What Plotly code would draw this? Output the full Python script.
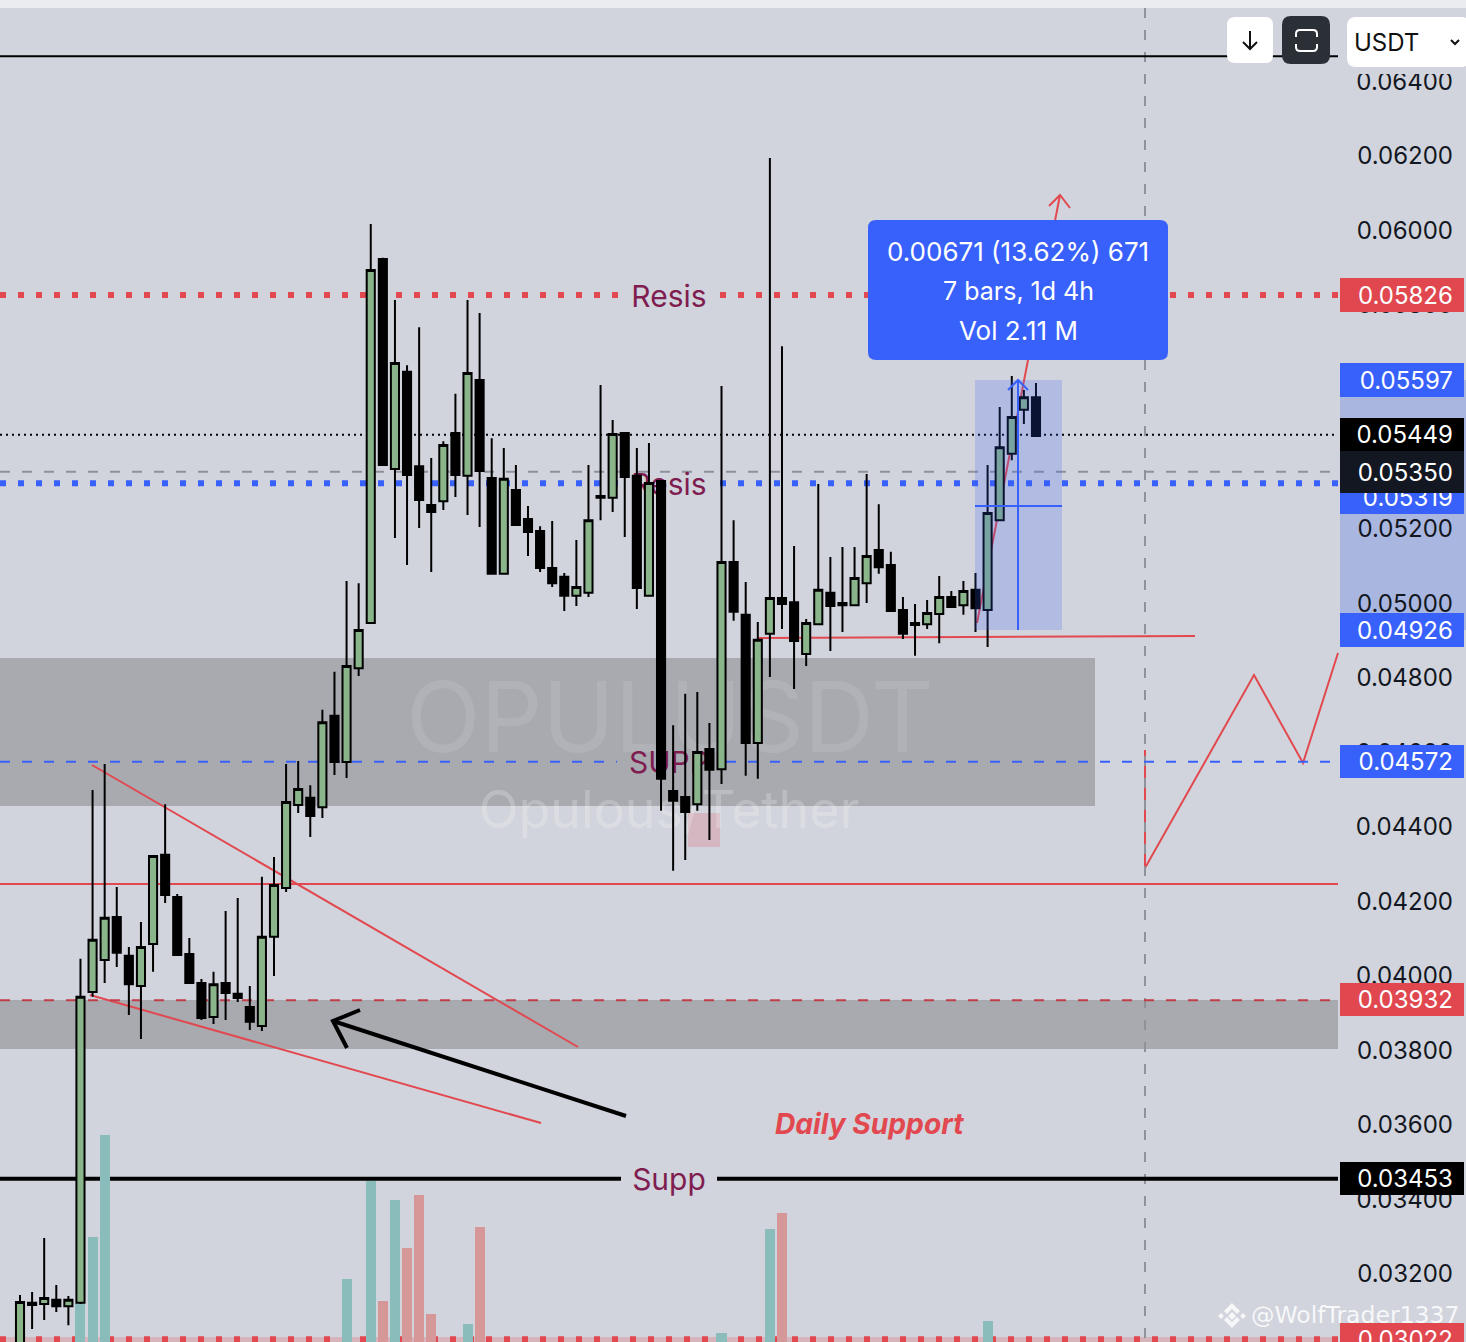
import plotly.graph_objects as go

W, H = 1466, 1342
# price scale: px 0 and px 1342 in 1e-5 USDT
P_TOP, P_BOT = 6615.8, 3014.8
SLOT, X0 = 12.095, 20.0
TICK_SHIFT = 2.68  # the price labels sit one pixel under their gridline value

# OHLC of the candles, in 1e-5 USDT
opens = [2967,3120,3117,3128,3111,3120,3954,4040,4155,4051,3970,4083,4322,4209,4056,3978,3887,3978,3949,3914,
         3863,4102,4233,4456,4475,4450,4695,4571,4823,4944,5921,5357,5618,5365,5261,5271,5454,5339,5596,5333,
         5076,5301,5223,5191,5092,5068,5017,5025,5285,5280,5454,5339,5017,5325,4493,4477,4458,4606,4552,5108,
         4966,4622,4915,5011,5000,4861,4941,5025,4998,4992,5051,5140,5100,4979,4944,4941,4968,5014,4992,5033,
         4979,5220,5398,5516,5550]
highs = [3141,3149,3294,3168,3138,4043,4496,4566,4236,4075,4142,4319,4458,4217,4099,3989,4008,4171,4206,3970,
         4263,4316,4566,4574,4509,4711,4813,5057,5051,6015,5924,5811,5636,5738,5387,5432,5559,5811,5776,5440,
         5414,5368,5258,5204,5218,5078,5167,5368,5583,5489,5454,5414,5427,5325,4670,4754,4759,4676,5580,5220,
         5054,4947,6192,5687,5151,4955,5317,5121,5148,5148,5344,5263,5135,5014,4995,5006,5070,5030,5057,5078,
         5368,5524,5607,5569,5588]
lows = [2953,3050,3074,3095,3060,3117,3941,3978,4021,3892,3828,4008,4193,4053,3978,3879,3868,3879,3927,3852,
        3849,3997,4222,4434,4370,4421,4536,4528,4802,4944,5368,5172,5100,5199,5081,5247,5282,5234,5202,5076,
        5076,5207,5124,5081,5041,4976,4990,5014,5220,5242,5175,4982,5017,4440,4279,4308,4440,4362,4512,4950,
        4534,4526,4799,4928,4767,4829,4941,4869,4920,4992,4998,5076,4976,4901,4856,4928,4890,4987,4966,4920,
        4880,5220,5381,5478,5446]
closes = [3122,3114,3133,3111,3128,3941,4094,4153,4059,3975,4075,4319,4214,4053,3978,3884,3975,3951,3938,3874,
          4102,4241,4464,4499,4426,4678,4571,4829,4925,5891,5368,5642,5341,5274,5242,5422,5341,5615,5352,5076,
          5331,5207,5188,5092,5051,5017,5041,5220,5280,5451,5336,5038,5320,4526,4467,4437,4598,4550,5108,4974,
          4622,4899,5011,4995,4896,4944,5033,4990,4992,5065,5124,5094,4976,4915,4939,4971,5014,4987,5030,4984,
          5239,5416,5497,5550,5446]

# visible volume bars (candle index, volume in arbitrary units)
vol_index = [5,6,7,27,29,30,31,32,33,34,37,38,58,62,63,80]
vol_values = [0.39,1.05,2.07,0.63,1.61,0.41,1.42,0.94,1.47,0.28,0.18,1.15,0.09,1.13,1.29,0.21]

tick_values = [3200,3400,3600,3800,4000,4200,4400,4600,4800,5000,5200,5400,5600,5800,6000,6200,6400]

# level lines, in 1e-5 USDT
LV_TOP = 6465; LV_RES1 = 5824; LV_LAST = 5449; LV_GRAY = 5350; LV_RES2 = 5319
LV_SUP = 4572; LV_RED = 4244; LV_DAILY = 3932; LV_SUPP = 3453; LV_LOW = 3022

# axis tags: label, colour, top px, bottom px
tag_labels = ["0.05826","0.05597","0.05449","0.05319","0.05350","0.04926","0.04572","0.03932","0.03453","0.03022"]
tag_colors = ["#e0474f","#3861fb","#000000","#3861fb","#131722","#3861fb","#3861fb","#e0474f","#000000","#e0474f"]
tag_tops = [278,363,418,480,451,613,745,983,1162,1323]
tag_bottoms = [312,397,451,514,493,647,778,1016,1195,1356]

RED, BLUE = "#e2484f", "#3861fb"
TEXT = "#7f1d50"
FONT = "Inter"
BG = "#d1d4dc"


def px(x):
    return x / W


def py(y):
    return 1 - y / H


def slot(x):
    return (x - X0) / SLOT


def price(y):
    return (P_TOP + (P_BOT - P_TOP) * y / H + TICK_SHIFT) / 1e5


def lv(value):
    return (value + TICK_SHIFT) / 1e5


shapes = []


def rect(x0, y0, x1, y1, fill, layer="below"):
    shapes.append(dict(type="rect", xref="paper", yref="paper", x0=px(x0), x1=px(x1), y0=py(y0), y1=py(y1),
                       fillcolor=fill, line_width=0, layer=layer))


def poly(points, color, width, layer="below", dash=None):
    d = "M" + " L".join(f"{px(a):.5f},{py(b):.5f}" for a, b in points)
    shapes.append(dict(type="path", xref="paper", yref="paper", path=d, layer=layer,
                       line=dict(color=color, width=width, dash=dash)))


def curve(cmds, color, width=0, fill=None, layer="above"):
    parts = []
    for c in cmds:
        parts.append(c[0] + " ".join(f"{px(c[i]):.5f},{py(c[i + 1]):.5f}" for i in range(1, len(c), 2)))
    d = "".join(parts)
    shapes.append(dict(type="path", xref="paper", yref="paper", path=d, layer=layer, fillcolor=fill,
                       line=dict(color=color, width=width)))


def rrect(x0, y0, x1, y1, r, fill):
    curve([("M", x0 + r, y0), ("L", x1 - r, y0), ("Q", x1, y0, x1, y0 + r), ("L", x1, y1 - r),
           ("Q", x1, y1, x1 - r, y1), ("L", x0 + r, y1), ("Q", x0, y1, x0, y1 - r), ("L", x0, y0 + r),
           ("Q", x0, y0, x0 + r, y0), ("Z",)], fill, 0, fill)


def level(value, x0, x1, color, width, dash):
    shapes.append(dict(type="line", xref="paper", yref="y", x0=px(x0), x1=px(x1), y0=lv(value), y1=lv(value),
                       layer="below", line=dict(color=color, width=width, dash=dash)))


# zones (below everything)
rect(0, 658, 1095, 806, "#a8aab0")
rect(0, 1000, 1338, 1049, "#a8aab0")
rect(688, 813, 720, 847, "rgba(226,72,82,0.2)")
rect(0, 1337, 1338, 1342, "#d7b4bc")
rect(1340, 380, 1466, 630, "#a9b7e0")

# hand-drawn lines
poly([(92, 765), (578, 1047)], RED, 2)
poly([(90, 995), (541, 1123)], RED, 2)
poly([(758, 638), (1195, 636)], RED, 2)
poly([(977, 623), (1060, 195)], RED, 2)
poly([(1049, 206), (1060, 195), (1070, 208)], RED, 2)
poly([(1145, 750), (1145, 868), (1254, 675), (1303, 763), (1338, 653)], RED, 2)
poly([(626, 1116), (333, 1021)], "#000000", 4)
poly([(360, 1010), (333, 1021), (347, 1048)], "#000000", 4)

# dashed cursor
poly([(1145, 8), (1145, 1342)], "#8f9299", 2, dash="10px,12px")

# levels
level(LV_TOP, 0, 1338, "#000000", 2, "solid")
level(LV_LAST, 0, 1338, "#000000", 2, "2px,4px")
level(LV_GRAY, 0, 1338, "#8e9199", 2, "10px,12px")
for a, b in [(0, 618), (720, 1338)]:
    level(LV_RES1, a, b, RED, 6, "6px,12px")
for a, b in [(0, 618), (720, 1338)]:
    level(LV_RES2, a, b, BLUE, 6, "6px,12px")
for a, b in [(0, 617), (726, 1338)]:
    level(LV_SUP, a, b, BLUE, 2, "10px,12px")
level(LV_RED, 0, 1338, RED, 2, "solid")
level(LV_DAILY, 0, 1338, "#c23d4a", 2, "10px,12px")
for a, b in [(0, 621), (717, 1338)]:
    level(LV_SUPP, a, b, "#000000", 4, "solid")
level(LV_LOW, 0, 1338, RED, 6, "6px,12px")

# measure box (above the candles)
rect(975, 380, 1062, 630, "rgba(56,97,251,0.2)", "above")
poly([(1018, 380), (1018, 630)], BLUE, 2, "above")
poly([(975, 506), (1062, 506)], BLUE, 2, "above")
poly([(1008, 390), (1018, 380), (1028, 390)], BLUE, 2, "above")
rrect(868, 220, 1168, 360, 8, BLUE)

# top strip and buttons
rect(0, 0, 1466, 8, "#eaecef", "above")
rect(1347, 60, 1466, 74, BG, "above")
rrect(1227, 17, 1273, 63, 8, "#ffffff")
rrect(1282, 16, 1330, 64, 9, "#2b2f36")
rrect(1347, 17, 1470, 67, 9, "#ffffff")
poly([(1250, 31), (1250, 49)], "#111111", 2, "above")
poly([(1243, 42), (1250, 49), (1257, 42)], "#111111", 2, "above")
curve([("M", 1296, 37), ("L", 1296, 34), ("Q", 1296, 30, 1300, 30), ("L", 1313, 30), ("Q", 1317, 30, 1317, 34),
       ("L", 1317, 37)], "#ffffff", 2)
curve([("M", 1296, 44), ("L", 1296, 47), ("Q", 1296, 51, 1300, 51), ("L", 1313, 51), ("Q", 1317, 51, 1317, 47),
       ("L", 1317, 44)], "#ffffff", 2)
poly([(1451, 40), (1455, 44), (1459, 40)], "#111111", 2, "above")

# watermark logo
LOGO = "rgba(255,255,255,0.8)"
curve([("M", 1232, 1303), ("L", 1240, 1311), ("L", 1237, 1314), ("L", 1232, 1309), ("L", 1227, 1314),
       ("L", 1224, 1311), ("Z",)], LOGO, 0, LOGO)
curve([("M", 1232, 1328), ("L", 1240, 1320), ("L", 1237, 1317), ("L", 1232, 1322), ("L", 1227, 1317),
       ("L", 1224, 1320), ("Z",)], LOGO, 0, LOGO)
curve([("M", 1232, 1312), ("L", 1236, 1316), ("L", 1232, 1320), ("L", 1228, 1316), ("Z",)], LOGO, 0, LOGO)
curve([("M", 1221, 1313), ("L", 1224, 1316), ("L", 1221, 1319), ("L", 1218, 1316), ("Z",)], LOGO, 0, LOGO)
curve([("M", 1243, 1313), ("L", 1246, 1316), ("L", 1243, 1319), ("L", 1240, 1316), ("Z",)], LOGO, 0, LOGO)

fig = go.Figure()

# text below the candles
fig.add_trace(go.Scatter(x=[slot(670)], y=[price(728)], mode="text", text=["OPULUSDT"], hoverinfo="skip",
                         textfont=dict(family=FONT, size=97, color="rgba(255,255,255,0.1)"), showlegend=False))
fig.add_trace(go.Scatter(x=[slot(669)], y=[price(815)], mode="text", text=["Opulous/Tether"], hoverinfo="skip",
                         textfont=dict(family=FONT, size=52, color="rgba(255,255,255,0.22)"), showlegend=False))
label_lift = 4 * (P_TOP - P_BOT) / H
fig.add_trace(go.Scatter(x=[slot(669), slot(669), slot(669), slot(669)],
                         y=[lv(v - label_lift) for v in (LV_RES1, LV_RES2, LV_SUP, LV_SUPP)],
                         mode="text", text=["Resis", "Resis", "SUPP", "Supp"], hoverinfo="skip",
                         textfont=dict(family=FONT, size=30, color=TEXT), showlegend=False))

# volume
fig.add_trace(go.Bar(x=vol_index, y=vol_values, yaxis="y2", width=0.83, hoverinfo="skip", showlegend=False,
                     marker=dict(line_width=0,
                                 color=["#8bbcbc" if closes[i] >= opens[i] else "#d69799" for i in vol_index])))

# candles
fig.add_trace(go.Candlestick(x=list(range(len(opens))),
                             open=[v / 1e5 for v in opens], high=[v / 1e5 for v in highs],
                             low=[v / 1e5 for v in lows], close=[v / 1e5 for v in closes],
                             yaxis="y3", hoverinfo="skip", showlegend=False, whiskerwidth=0,
                             increasing=dict(fillcolor="#8ab58a", line=dict(color="#000000", width=2)),
                             decreasing=dict(fillcolor="#000000", line=dict(color="#000000", width=2))))

ann = []
for lab, col, t, b in zip(tag_labels, tag_colors, tag_tops, tag_bottoms):
    ann.append(dict(xref="paper", yref="paper", x=px(1340), y=py((t + b) / 2), xanchor="left", yanchor="middle",
                    width=124, height=b - t, bgcolor=col, borderpad=0, borderwidth=0, align="right", valign="middle",
                    text=lab + "\u2009\u00a0", showarrow=False, font=dict(family=FONT, size=24, color="#ffffff")))
for txt, yy, sz in [("0.00671 (13.62%) 671", 251, 26), ("7 bars, 1d 4h", 291, 25), ("Vol 2.11 M", 330, 26)]:
    ann.append(dict(xref="paper", yref="paper", x=px(1018), y=py(yy), xanchor="center", yanchor="middle", text=txt,
                    showarrow=False, font=dict(family=FONT, size=sz, color="#ffffff")))
ann.append(dict(xref="paper", yref="paper", x=px(870), y=py(1124), xanchor="center", yanchor="middle",
                text="<b><i>Daily Support</i></b>", showarrow=False, font=dict(family=FONT, size=28.2, color=RED)))
ann.append(dict(xref="paper", yref="paper", x=px(1352), y=py(43), xanchor="left", yanchor="middle", text="USDT",
                showarrow=False, font=dict(family=FONT, size=24, color="#111111")))
ann.append(dict(xref="paper", yref="paper", x=px(1249), y=py(1315), xanchor="left", yanchor="middle",
                text="@WolfTrader1337", showarrow=False,
                font=dict(family="DejaVu Sans", size=23.5, color="rgba(255,255,255,0.85)")))

y_range = [P_BOT / 1e5, P_TOP / 1e5]
fig.update_layout(
    width=W, height=H, margin=dict(l=0, r=0, t=0, b=0), paper_bgcolor=BG, plot_bgcolor=BG,
    boxgap=0.33, boxgroupgap=0, bargap=0, showlegend=False, shapes=shapes, annotations=ann, hovermode=False,
    xaxis=dict(range=[(0 - X0) / SLOT, (W - X0) / SLOT], visible=False, fixedrange=True,
               rangeslider=dict(visible=False)),
    yaxis=dict(range=[(P_BOT + TICK_SHIFT) / 1e5, (P_TOP + TICK_SHIFT) / 1e5], side="right", showgrid=False,
               zeroline=False, showline=False, ticks="",
               ticklabelposition="inside", ticklabelstandoff=10,
               tickvals=[v / 1e5 for v in tick_values], tickformat=".5f",
               tickfont=dict(family=FONT, size=24, color="#131722"), fixedrange=True),
    yaxis2=dict(range=[0, 13.42], overlaying="y", visible=False, fixedrange=True),
    yaxis3=dict(range=y_range, overlaying="y", visible=False, fixedrange=True),
)
fig.write_html("out.html", config=dict(displayModeBar=False),
               post_script="document.body.style.margin='0';document.body.style.background='#ffffff';")
